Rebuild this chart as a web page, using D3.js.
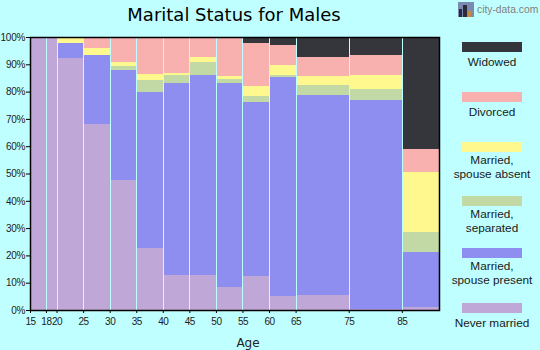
<!DOCTYPE html>
<html><head><meta charset="utf-8">
<script src="https://cdn.jsdelivr.net/npm/d3@7"></script>
<style>
html,body{margin:0;padding:0;background:#c0ffff;}
svg{display:block;}
</style></head>
<body>
<svg id="chart" width="540" height="350"></svg>
<script>
const ageEdges = [15,18,20,25,30,35,40,45,50,55,60,65,75,85,92];
const tickAges = [15,18,20,25,30,35,40,45,50,55,60,65,75,85];
const neverMarried  = [100,100,92.3,68.1,47.6,22.7,12.8,12.8,8.4,12.5,5.1,5.5,0.4,1.1];
const spousePresent = [0,0,5.4,25.3,40.3,57.1,70.3,73.3,74.7,63.7,80.2,73.3,76.6,20.1];
const separated     = [0,0,0,0,1.5,4.4,2.9,4.8,1.5,2.2,0.7,3.7,4.0,7.3];
const spouseAbsent  = [0,0,2.3,2.6,1.5,2.4,0.7,1.8,1.1,3.7,3.7,3.3,5.1,22.0];
const divorced      = [0,0,0,4.0,9.1,13.4,13.3,7.3,14.3,15.8,7.4,7.0,7.4,8.6];
const widowed       = [0,0,0,0,0,0,0,0,0,2.1,2.9,7.2,6.5,40.9];
const seriesKeys = ["never","present","separated","absent","divorced","widowed"];
const seriesNames = {never:["Never married"],present:["Married,","spouse present"],separated:["Married,","separated"],absent:["Married,","spouse absent"],divorced:["Divorced"],widowed:["Widowed"]};
const colors = {never:"#bfa8d8",present:"#8e8ef0",separated:"#c3d9a5",absent:"#fff88f",divorced:"#f9b1b0",widowed:"#35363b"};

const rows = ageEdges.slice(0,-1).map((a,i)=>({x0:a,x1:ageEdges[i+1],
  never:neverMarried[i],present:spousePresent[i],separated:separated[i],
  absent:spouseAbsent[i],divorced:divorced[i],widowed:widowed[i]}));

const svg = d3.select("#chart");
const L=30,R=439,T=37,B=310;
const x = d3.scaleLinear().domain([ageEdges[0],ageEdges[ageEdges.length-1]]).range([L,R]);
const y = d3.scaleLinear().domain([0,1]).range([B,T]);

const stack = d3.stack().keys(seriesKeys).offset(d3.stackOffsetExpand);
const layers = stack(rows);

const g = svg.append("g");
layers.forEach(layer=>{
  g.selectAll(null).data(layer).enter().append("rect")
    .attr("x",d=>x(d.data.x0)).attr("width",d=>x(d.data.x1)-x(d.data.x0))
    .attr("y",d=>y(d[1])).attr("height",d=>Math.max(0,y(d[0])-y(d[1])))
    .attr("fill",colors[layer.key]).attr("shape-rendering","crispEdges");
});
// separators
g.selectAll(null).data(ageEdges.slice(1,-1)).enter().append("line")
  .attr("x1",d=>Math.round(x(d))+0.5).attr("x2",d=>Math.round(x(d))+0.5)
  .attr("y1",T).attr("y2",B).attr("stroke","#c0ffff").attr("stroke-width",1);

// border
svg.append("rect").attr("x",L+0.5).attr("y",T+0.5).attr("width",R-L).attr("height",B-T)
  .attr("fill","none").attr("stroke","#000").attr("stroke-width",1.5);

const yAxis = d3.axisLeft(y).tickValues(d3.range(0,1.01,0.1)).tickFormat(d3.format(".0%")).tickSize(4);
const ya = svg.append("g").attr("transform",`translate(${L},0)`).call(yAxis);
const xAxis = d3.axisBottom(x).tickValues(tickAges).tickFormat(d3.format("d")).tickSize(3);
const xa = svg.append("g").attr("transform",`translate(0,${B})`).call(xAxis);
[ya,xa].forEach(a=>{
  a.select(".domain").remove();
  a.selectAll("line").attr("stroke","#000");
  a.selectAll("text").attr("font-family","Liberation Sans, Arial, sans-serif").attr("font-size",10).attr("fill","#222");
});
ya.selectAll("text").attr("dx","2").attr("letter-spacing","-0.3");
xa.selectAll("text").attr("dy","0.9em").attr("letter-spacing","-0.5");

svg.append("text").attr("x",248).attr("y",347).attr("text-anchor","middle")
  .attr("font-family","DejaVu Sans, Verdana, sans-serif").attr("font-size",12).attr("fill","#222").text("Age");

svg.append("text").attr("x",234).attr("y",21).attr("text-anchor","middle")
  .attr("font-family","DejaVu Sans, Verdana, sans-serif").attr("font-size",18).attr("fill","#000").text("Marital Status for Males");

// logo
const logo = svg.append("g");
logo.append("rect").attr("x",458).attr("y",2).attr("width",16).attr("height",15).attr("fill","#7a8ab0");
logo.append("rect").attr("x",459).attr("y",9).attr("width",3).attr("height",8).attr("fill","#2a2a3a");
logo.append("rect").attr("x",463).attr("y",5).attr("width",4).attr("height",12).attr("fill","#2a2a3a");
logo.append("rect").attr("x",468).attr("y",11).attr("width",3).attr("height",6).attr("fill","#c58a3a");
logo.append("text").attr("x",477).attr("y",13).attr("font-family","Liberation Sans, Arial, sans-serif")
  .attr("font-size",10.3).attr("fill","#808080").text("city-data.com");

// legend
const legendOrder = ["widowed","divorced","absent","separated","present","never"];
const legendTops = [42,92,142,196,248,303];
const leg = svg.append("g");
legendOrder.forEach((k,i)=>{
  const top = legendTops[i];
  leg.append("rect").attr("x",462).attr("y",top).attr("width",60).attr("height",10).attr("fill",colors[k]);
  const n = seriesNames[k].length;
  seriesNames[k].forEach((line,j)=>{
    leg.append("text").attr("x",492).attr("y",top+(n===1?24:22)+j*13.5).attr("text-anchor","middle")
      .attr("font-family","Liberation Sans, Arial, sans-serif").attr("font-size",11.8).attr("fill","#1a1a1a").text(line);
  });
});
</script>
</body></html>
